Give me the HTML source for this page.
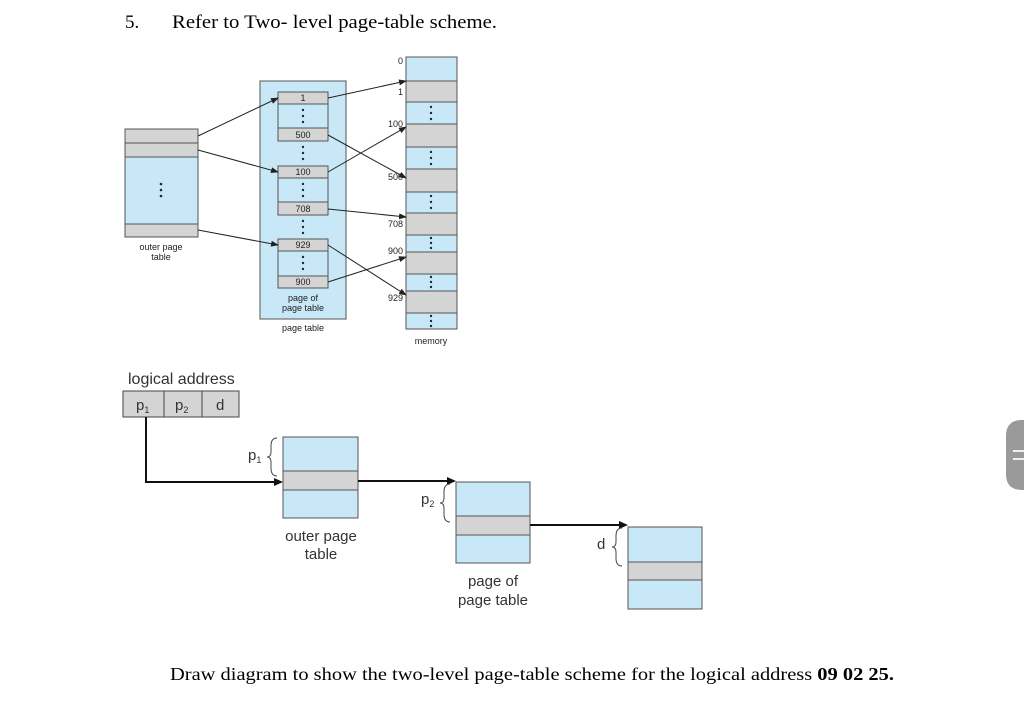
<!DOCTYPE html>
<html><head><meta charset="utf-8"><style>
html,body{margin:0;padding:0;background:#fff;}
svg{display:block;}
.s{font-family:"Liberation Sans",sans-serif;}
.r{font-family:"Liberation Serif",serif;}
</style></head><body>
<svg width="1024" height="712" viewBox="0 0 1024 712" xmlns="http://www.w3.org/2000/svg">
<defs><marker id="a" markerWidth="8" markerHeight="6" refX="7" refY="3" orient="auto" markerUnits="userSpaceOnUse"><path d="M0,0 L8,3 L0,6 z" fill="#222"/></marker></defs>
<rect width="1024" height="712" fill="#fff"/>
<text class="r" x="125" y="28" font-size="19">5.</text>
<text class="r" x="172" y="28" font-size="19" textLength="325" lengthAdjust="spacingAndGlyphs">Refer to  Two- level page-table scheme.</text>

<g stroke="#555" stroke-width="1">
<!-- outer page table -->
<rect x="125" y="129" width="73" height="108" fill="#c8e8f8"/>
<rect x="125" y="129" width="73" height="14" fill="#d4d4d4"/>
<rect x="125" y="143" width="73" height="14" fill="#d4d4d4"/>
<rect x="125" y="224" width="73" height="13" fill="#d4d4d4"/>
<!-- page table -->
<rect x="260" y="81" width="86" height="238" fill="#c8e8f8"/>
<rect x="278" y="92" width="50" height="49" fill="#c8e8f8"/>
<rect x="278" y="92" width="50" height="12" fill="#d4d4d4"/>
<rect x="278" y="128" width="50" height="13" fill="#d4d4d4"/>
<rect x="278" y="166" width="50" height="49" fill="#c8e8f8"/>
<rect x="278" y="166" width="50" height="12" fill="#d4d4d4"/>
<rect x="278" y="202" width="50" height="13" fill="#d4d4d4"/>
<rect x="278" y="239" width="50" height="49" fill="#c8e8f8"/>
<rect x="278" y="239" width="50" height="12" fill="#d4d4d4"/>
<rect x="278" y="276" width="50" height="12" fill="#d4d4d4"/>
<!-- memory -->
<rect x="406" y="57" width="51" height="272" fill="#c8e8f8"/>
<rect x="406" y="81" width="51" height="21" fill="#d4d4d4"/>
<rect x="406" y="124" width="51" height="23" fill="#d4d4d4"/>
<rect x="406" y="169" width="51" height="23" fill="#d4d4d4"/>
<rect x="406" y="213" width="51" height="22" fill="#d4d4d4"/>
<rect x="406" y="252" width="51" height="22" fill="#d4d4d4"/>
<rect x="406" y="291" width="51" height="22" fill="#d4d4d4"/>
</g>
<g fill="#1a2a3a">
<circle cx="161" cy="184" r="1.3"/><circle cx="161" cy="190" r="1.3"/><circle cx="161" cy="196" r="1.3"/>
<circle cx="303" cy="110" r="1.2"/><circle cx="303" cy="116" r="1.2"/><circle cx="303" cy="122" r="1.2"/>
<circle cx="303" cy="147" r="1.2"/><circle cx="303" cy="153" r="1.2"/><circle cx="303" cy="159" r="1.2"/>
<circle cx="303" cy="184" r="1.2"/><circle cx="303" cy="190" r="1.2"/><circle cx="303" cy="196" r="1.2"/>
<circle cx="303" cy="221" r="1.2"/><circle cx="303" cy="227" r="1.2"/><circle cx="303" cy="233" r="1.2"/>
<circle cx="303" cy="257" r="1.2"/><circle cx="303" cy="263" r="1.2"/><circle cx="303" cy="269" r="1.2"/>
<circle cx="431" cy="107" r="1.2"/><circle cx="431" cy="113" r="1.2"/><circle cx="431" cy="119" r="1.2"/>
<circle cx="431" cy="152" r="1.2"/><circle cx="431" cy="158" r="1.2"/><circle cx="431" cy="164" r="1.2"/>
<circle cx="431" cy="196" r="1.2"/><circle cx="431" cy="202" r="1.2"/><circle cx="431" cy="208" r="1.2"/>
<circle cx="431" cy="238" r="1.2"/><circle cx="431" cy="243" r="1.2"/><circle cx="431" cy="248" r="1.2"/>
<circle cx="431" cy="277" r="1.2"/><circle cx="431" cy="282" r="1.2"/><circle cx="431" cy="287" r="1.2"/>
<circle cx="431" cy="316" r="1.2"/><circle cx="431" cy="321" r="1.2"/><circle cx="431" cy="326" r="1.2"/>
</g>
<g class="s" font-size="9" fill="#222" text-anchor="middle">
<text x="303" y="101">1</text><text x="303" y="138">500</text>
<text x="303" y="175">100</text><text x="303" y="212">708</text>
<text x="303" y="248">929</text><text x="303" y="285">900</text>
<text x="161" y="250">outer page</text><text x="161" y="260">table</text>
<text x="303" y="301">page of</text><text x="303" y="311">page table</text>
<text x="303" y="331">page table</text>
<text x="431" y="344">memory</text>
</g>
<g class="s" font-size="9" fill="#222" text-anchor="end">
<text x="403" y="64">0</text><text x="403" y="95">1</text><text x="403" y="127">100</text>
<text x="403" y="180">500</text><text x="403" y="227">708</text><text x="403" y="254">900</text><text x="403" y="301">929</text>
</g>
<g stroke="#222" stroke-width="1" marker-end="url(#a)">
<line x1="198" y1="136" x2="278" y2="98"/>
<line x1="198" y1="150" x2="278" y2="172"/>
<line x1="198" y1="230" x2="278" y2="245"/>
<line x1="328" y1="98" x2="406" y2="81"/>
<line x1="328" y1="135" x2="406" y2="178"/>
<line x1="328" y1="172" x2="406" y2="127"/>
<line x1="328" y1="209" x2="406" y2="217"/>
<line x1="328" y1="245" x2="406" y2="295"/>
<line x1="328" y1="282" x2="406" y2="257"/>
</g>

<!-- bottom -->
<text class="s" x="128" y="384" font-size="16" fill="#333">logical address</text>
<g stroke="#444" stroke-width="1" fill="#d4d4d4">
<rect x="123" y="391" width="116" height="26"/>
<line x1="164" y1="391" x2="164" y2="417"/><line x1="202" y1="391" x2="202" y2="417"/>
</g>
<g class="s" font-size="15" fill="#333">
<text x="136" y="410">p<tspan font-size="9" dy="3">1</tspan></text>
<text x="175" y="410">p<tspan font-size="9" dy="3">2</tspan></text>
<text x="216" y="410">d</text>
</g>
<g stroke="#555" stroke-width="1">
<rect x="283" y="437" width="75" height="81" fill="#c8e8f8"/>
<rect x="283" y="471" width="75" height="19" fill="#d4d4d4"/>
<rect x="456" y="482" width="74" height="81" fill="#c8e8f8"/>
<rect x="456" y="516" width="74" height="19" fill="#d4d4d4"/>
<rect x="628" y="527" width="74" height="82" fill="#c8e8f8"/>
<rect x="628" y="562" width="74" height="18" fill="#d4d4d4"/>
</g>
<g stroke="#111" stroke-width="2" fill="none">
<polyline points="146,417 146,482 276,482"/>
<line x1="358" y1="481" x2="448" y2="481"/>
<line x1="530" y1="525" x2="620" y2="525"/>
</g>
<g fill="#111">
<path d="M283,482 L274,478 L274,486 z"/>
<path d="M456,481 L447,477 L447,485 z"/>
<path d="M628,525 L619,521 L619,529 z"/>
</g>
<g stroke="#444" stroke-width="1" fill="none">
<path d="M277,438 q-6,0 -6,8 v6 q0,5 -4,5 q4,0 4,5 v6 q0,8 6,8"/>
<path d="M450,484 q-6,0 -6,8 v6 q0,5 -4,5 q4,0 4,5 v6 q0,8 6,8"/>
<path d="M622,528 q-6,0 -6,8 v6 q0,5 -4,5 q4,0 4,5 v6 q0,8 6,8"/>
</g>
<g class="s" font-size="15" fill="#333">
<text x="248" y="460">p<tspan font-size="9" dy="3">1</tspan></text>
<text x="421" y="504">p<tspan font-size="9" dy="3">2</tspan></text>
<text x="597" y="549">d</text>
</g>
<g class="s" font-size="15" fill="#333" text-anchor="middle">
<text x="321" y="541">outer page</text><text x="321" y="559">table</text>
<text x="493" y="586">page of</text><text x="493" y="605">page table</text>
</g>

<text class="r" x="170" y="680" font-size="18" textLength="724" lengthAdjust="spacingAndGlyphs">Draw diagram to show the two-level page-table scheme for the logical address <tspan font-weight="bold">09 02 25.</tspan></text>

<path d="M1024,420 L1022,420 Q1006,420 1006,436 L1006,474 Q1006,490 1022,490 L1024,490 z" fill="#9a9a9a"/>
<rect x="1013" y="450" width="11" height="2" fill="#eee"/>
<rect x="1013" y="458" width="11" height="2" fill="#eee"/>
</svg>
</body></html>
